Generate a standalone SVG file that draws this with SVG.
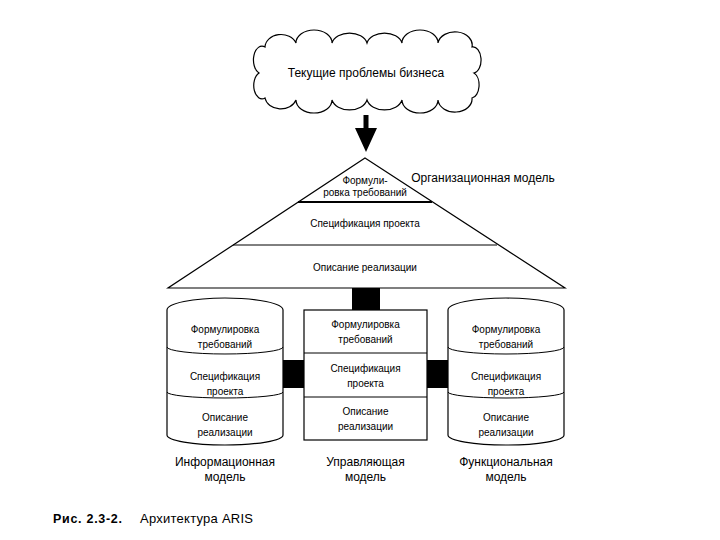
<svg xmlns="http://www.w3.org/2000/svg" width="720" height="540" viewBox="0 0 720 540">
<style>
text{font-family:"Liberation Sans",Arial,sans-serif;fill:#000;text-anchor:middle}
.s{font-size:10px}
.m{font-size:12px}
.ln{fill:none;stroke:#000;stroke-width:1}
.sh{fill:#fff;stroke:#000;stroke-width:1.2}
.blk{fill:#000}
</style>
<rect width="720" height="540" fill="#fff"/>
<g id="cloud">
<path class="sh" d="M265,47 A16,13 0 0 1 296,43 A18,13 0 0 1 332,43 A18,13 0 0 1 367,43 A18,13 0 0 1 402,43 A18,13 0 0 1 438,43 A17,13 0 0 1 472,47 A8,13 0 0 1 474,73 A8,13 0 0 1 472,98 A17,13 0 0 1 438,100 A18,13 0 0 1 402,100 A18,13 0 0 1 367,100 A18,13 0 0 1 332,100 A18,13 0 0 1 296,100 A16,13 0 0 1 265,98 A8,13 0 0 1 259,73 A8,13 0 0 1 265,47 Z"/>
<text class="m" x="366" y="77">Текущие проблемы бизнеса</text>
</g>
<g id="connectors">
<path class="blk" d="M363.5,115 H368.5 V128 H377 L366,152 L355,128 H363.5 Z"/>
<rect class="blk" x="352" y="288" width="28" height="22"/>
<rect class="blk" x="283" y="360" width="21" height="28"/>
<rect class="blk" x="427" y="360" width="21" height="28"/>
</g>
<g id="org">
<path class="sh" d="M365,158 L565,288 H168 Z"/>
<line x1="298" y1="202" x2="432" y2="202" stroke="#000" stroke-width="2"/>
<line class="ln" x1="233" y1="245" x2="497" y2="245"/>
<text class="s" x="365" y="184">Формули-</text>
<text class="s" x="365" y="196">ровка требований</text>
<text class="s" x="365" y="227">Спецификация проекта</text>
<text class="s" x="365" y="271">Описание реализации</text>
<text class="m" x="483" y="182">Организационная модель</text>
</g>
<g id="info">
<path class="sh" d="M167,310 A58,12 0 0 1 283,310 V435 A58,10 0 0 1 167,435 Z"/>
<path class="ln" d="M167,347 A58,7 0 0 0 283,347"/>
<path class="ln" d="M167,392 A58,6 0 0 0 283,392"/>
<text class="s" x="225" y="333">Формулировка</text>
<text class="s" x="225" y="348">требований</text>
<text class="s" x="225" y="380">Спецификация</text>
<text class="s" x="225" y="395">проекта</text>
<text class="s" x="225" y="421">Описание</text>
<text class="s" x="225" y="436">реализации</text>
<text class="m" x="225" y="466">Информационная</text>
<text class="m" x="225" y="481">модель</text>
</g>
<g id="ctrl">
<rect class="sh" x="304" y="310" width="123" height="130"/>
<line class="ln" x1="304" y1="353" x2="427" y2="353"/>
<line class="ln" x1="304" y1="397" x2="427" y2="397"/>
<text class="s" x="365.5" y="328">Формулировка</text>
<text class="s" x="365.5" y="343">требований</text>
<text class="s" x="365.5" y="372">Спецификация</text>
<text class="s" x="365.5" y="387">проекта</text>
<text class="s" x="365.5" y="415">Описание</text>
<text class="s" x="365.5" y="430">реализации</text>
<text class="m" x="365.5" y="466">Управляющая</text>
<text class="m" x="365.5" y="481">модель</text>
</g>
<g id="func">
<path class="sh" d="M448,310 A58,12 0 0 1 564,310 V435 A58,10 0 0 1 448,435 Z"/>
<path class="ln" d="M448,347 A58,7 0 0 0 564,347"/>
<path class="ln" d="M448,392 A58,6 0 0 0 564,392"/>
<text class="s" x="506" y="333">Формулировка</text>
<text class="s" x="506" y="348">требований</text>
<text class="s" x="506" y="380">Спецификация</text>
<text class="s" x="506" y="395">проекта</text>
<text class="s" x="506" y="421">Описание</text>
<text class="s" x="506" y="436">реализации</text>
<text class="m" x="506" y="466">Функциональная</text>
<text class="m" x="506" y="481">модель</text>
</g>
<g id="caption">
<text x="53" y="523" textLength="69" lengthAdjust="spacing" style="font-size:12.5px;font-weight:bold;text-anchor:start">Рис. 2.3-2.</text>
<text x="140" y="523" textLength="113" lengthAdjust="spacing" style="font-size:13px;text-anchor:start">Архитектура ARIS</text>
</g>
</svg>
